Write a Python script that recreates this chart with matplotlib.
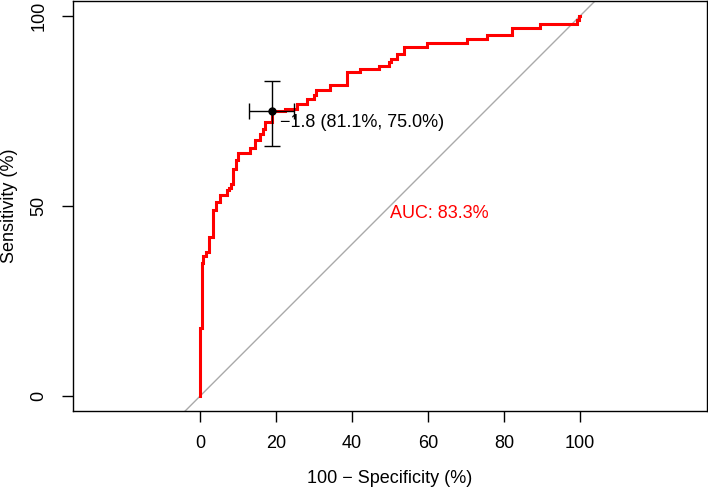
import matplotlib.pyplot as plt

plt.rcParams['font.family'] = ['Liberation Sans', 'DejaVu Sans']

# ROC curve vertices (x = 100 - specificity, y = sensitivity)
fpr = [0, 0, 0.5, 0.5, 0.9, 0.9, 1.6, 1.6, 2.4, 2.4, 3.5, 3.5, 4.1, 4.1,
       5.4, 5.4, 7.0, 7.0, 7.6, 7.6, 8.2, 8.2, 8.8, 8.8, 9.4, 9.4, 10.1, 10.1,
       13.3, 13.3, 14.5, 14.5, 15.8, 15.8, 16.5, 16.5, 17.1, 17.1, 18.9, 18.9,
       22.5, 22.5, 25.5, 25.5, 28.3, 28.3, 29.9, 29.9, 30.6, 30.6, 34.1, 34.1,
       38.8, 38.8, 42.0, 42.0, 47.2, 47.2, 49.7, 49.7, 50.3, 50.3, 51.9, 51.9,
       53.6, 53.6, 59.7, 59.7, 70.2, 70.2, 75.5, 75.5, 82.2, 82.2, 89.4, 89.4,
       99.2, 99.2, 99.9, 99.9, 100]
sens = [0, 18, 18, 35, 35, 37, 37, 38, 38, 42, 42, 49, 49, 51,
        51, 53, 53, 54.2, 54.2, 54.9, 54.9, 55.9, 55.9, 59.9, 59.9, 62.1, 62.1, 64,
        64, 65.2, 65.2, 67.3, 67.3, 69.1, 69.1, 70.4, 70.4, 72.2, 72.2, 75,
        75, 75.7, 75.7, 76.8, 76.8, 78.1, 78.1, 79.2, 79.2, 80.7, 80.7, 81.8,
        81.8, 85.3, 85.3, 86, 86, 86.8, 86.8, 88, 88, 88.8, 88.8, 90,
        90, 91.9, 91.9, 93, 93, 94, 94, 95, 95, 96.8, 96.8, 97.9,
        97.9, 98.9, 98.9, 100, 100]

# best threshold and its confidence intervals
thr_label = "\u22121.8 (81.1%, 75.0%)"
thr_x, thr_y = 18.9, 75.0
thr_x_ci = (13.0, 24.8)
thr_y_ci = (65.8, 82.9)
auc_label = "AUC: 83.3%"

fs = 13

fig = plt.figure(figsize=(7.08, 4.88), dpi=100)
ax = fig.add_axes([0.1027, 0.157, 0.8955, 0.841])
ax.set_xlim(-33.5, 133.4)
ax.set_ylim(-4, 104)

ax.plot([-10, 110], [-10, 110], color='#aaaaaa', lw=1, zorder=1)
ax.plot(fpr, sens, color='red', lw=2.2, zorder=2, solid_joinstyle='miter')

ax.errorbar(thr_x, thr_y,
            xerr=[[thr_x - thr_x_ci[0]], [thr_x_ci[1] - thr_x]],
            yerr=[[thr_y - thr_y_ci[0]], [thr_y_ci[1] - thr_y]],
            fmt='o', color='black', ms=5, lw=1, capsize=6, capthick=1, zorder=3)
ax.text(21.0, 72.0, thr_label, ha='left', va='center', fontsize=fs)
ax.text(50, 50.3, auc_label, ha='left', va='top', fontsize=fs, color='red')

ax.set_xticks([0, 20, 40, 60, 80, 100])
ax.set_yticks([0, 50, 100])
ax.tick_params(axis='both', length=8, width=1, labelsize=fs, direction='out')
ax.tick_params(axis='x', pad=9)
ax.tick_params(axis='y', pad=10, labelrotation=90)
for lab in ax.get_yticklabels():
    lab.set_va('center')
for s in ax.spines.values():
    s.set_linewidth(1)

ax.set_xlabel('100 \u2212 Specificity (%)', fontsize=fs)
ax.set_ylabel('Sensitivity (%)', fontsize=fs)
ax.xaxis.set_label_coords(0.5, -0.163)
ax.xaxis.label.set_va('center')
ax.yaxis.set_label_coords(-0.099, 0.5)
ax.yaxis.label.set_va('center')

fig.savefig('out.png', dpi=100)
